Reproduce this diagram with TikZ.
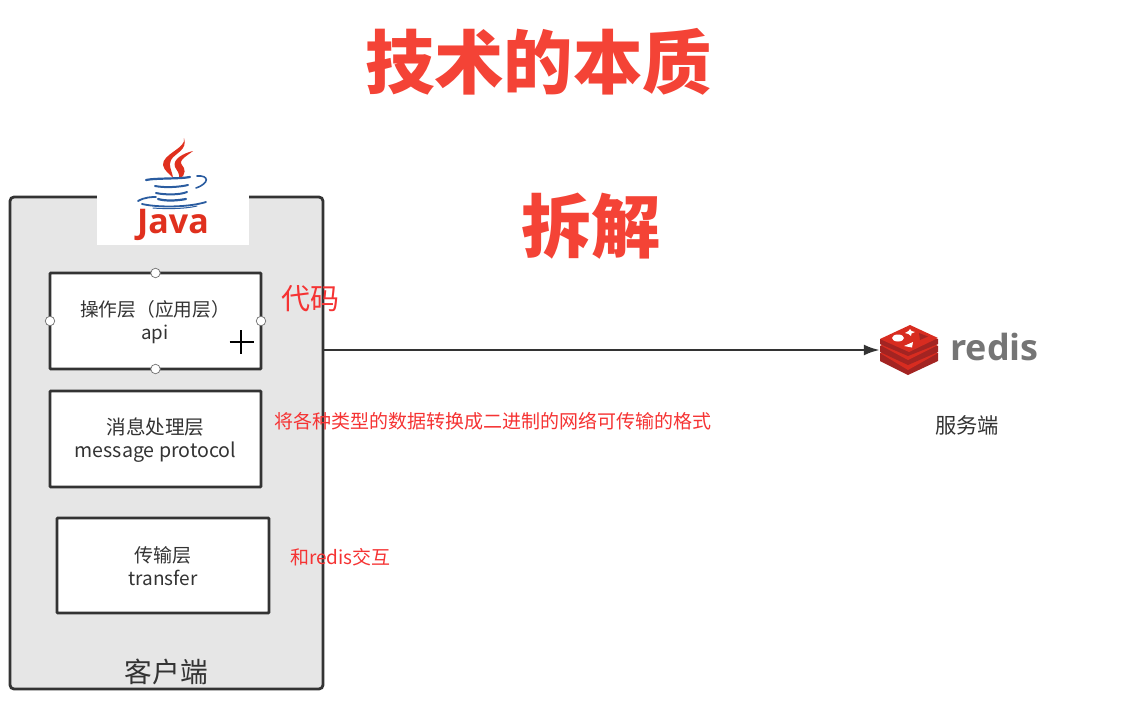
\documentclass[tikz,border=0pt]{standalone}
\usepackage{fontspec}
\setmainfont{Noto Sans CJK SC}
\newfontfamily\logofont{Open Sans}
\usetikzlibrary{arrows.meta}
\definecolor{ink}{HTML}{333333}
\definecolor{panelgray}{HTML}{E6E6E6}
\definecolor{titlered}{HTML}{F44336}
\definecolor{notered}{HTML}{F53333}
\definecolor{javared}{HTML}{E0301E}
\definecolor{javablue}{HTML}{2A5CA0}
\definecolor{redisred}{HTML}{D82C20}
\definecolor{redisdark}{HTML}{A32422}
\definecolor{redisgray}{HTML}{757575}
\newcommand{\fs}[1]{\fontsize{#1}{#1}\selectfont}
\tikzset{
  x=1pt,y=-1pt,
  txt/.style={inner sep=0pt,outer sep=0pt,align=center,text=ink},
  layerbox/.style={draw=ink,line width=2.8pt,fill=white,inner sep=0pt,outer sep=0pt,rounded corners=0.8pt},
  handle/.style={circle,draw=ink!70,line width=0.7pt,fill=white,inner sep=0pt,minimum size=9.5pt},
  note/.style={inner sep=0pt,outer sep=0pt,anchor=west,text=notered},
  titletext/.style={inner sep=0pt,outer sep=0pt,text=titlered,font=\fs{69.4}\bfseries},
  flow/.style={draw=ink,line width=2.5pt,-{Latex[length=16pt,width=11pt]}},
}
\begin{document}
\begin{tikzpicture}
\useasboundingbox (0,0) rectangle (1127,710);
% panel
\node[draw=ink,line width=2.8pt,fill=panelgray,rounded corners=4pt,minimum width=313pt,minimum height=492pt,inner sep=0pt,outer sep=0pt,anchor=north west] (panel) at (10,197) {};
\fill[white] (97,190) rectangle (249,245);
% titles
\node[titletext] (title) at (538.5,61.5) {技术的本质};
\node[titletext] (sub) at (591,226.5) {拆解};
% layers
\node[layerbox,minimum width=211pt,minimum height=96pt,anchor=north west] (api) at (50,273) {};
\node[layerbox,minimum width=211pt,minimum height=96pt,anchor=north west] (msg) at (50,391) {};
\node[layerbox,minimum width=212pt,minimum height=95pt,anchor=north west] (trans) at (57,518) {};
\node[txt,font=\fs{18.7}] (apitext) at (155,322.5) {操作层（应用层）\\[4.5pt]api};
\node[txt,font=\fs{19.6}] (msgtext) at (155.5,440) {消息处理层\\[4pt]message protocol};
\node[txt,font=\fs{19}] (transtext) at (163,566.5) {传输层\\[4pt]transfer};
\node[txt,font=\fs{27.7}] (client) at (166.5,672) {客户端};
% handles
\node[handle] (hn) at (api.north) {};
\node[handle] (hs) at (api.south) {};
\node[handle] (hw) at (api.west) {};
\node[handle] (he) at (api.east) {};
% cursor
\draw[black,line width=1.3pt] (229.5,342) -- (253.5,342) (241,330) -- (241,354);
% notes
\node[note,font=\fs{29}] (code) at (281,298.5) {代码};
\node[note,font=\fs{19}] (noteb) at (274,421) {将各种类型的数据转换成二进制的网络可传输的格式};
\node[note,font=\fs{19}] (notec) at (290,557) {和redis交互};
% java logo
\fill[javared] (184,138) .. controls (187,148) and (162,154) .. (163,165) .. controls (164,171) and (170,174) .. (173,178) .. controls (172,170) and (168,166) .. (171,160) .. controls (175,153) and (188,150) .. (184,138) -- cycle;
\fill[javared] (193,151) .. controls (184,153) and (172,159) .. (175,167) .. controls (177,171) and (180,173) .. (179,179) .. controls (187,175) and (185,168) .. (182,165) .. controls (178,160) and (187,156) .. (193,151) -- cycle;
\begin{scope}[javablue,line cap=round]
\draw[line width=2.2pt] (146,180) .. controls (155,178) and (180,179) .. (190,177);
\draw[line width=2pt] (155,186) .. controls (165,188) and (180,187) .. (188,185);
\draw[line width=2pt] (156,193) .. controls (165,195) and (180,195) .. (187,192);
\draw[line width=1.6pt] (197,176) .. controls (209,175) and (210,183) .. (196,188);
\draw[line width=1.8pt] (138,201) .. controls (145,197) and (152,197) .. (156,197);
\draw[line width=1.8pt] (142,204) .. controls (160,208) and (190,207) .. (206,202);
\draw[line width=1pt] (153,208) .. controls (165,209) and (185,209) .. (197,206);
\draw[line width=2.2pt] (158,199) .. controls (165,201) and (175,201) .. (186,199);
\end{scope}
\node[inner sep=0pt,text=javared,font=\logofont\bfseries\fs{34}] (java) at (173,225) {Java};
% redis logo
\node[inner sep=0pt,minimum width=58pt,minimum height=50pt] (redislogo) at (909,350) {};
\fill[redisdark] (880,353) -- (880,361) -- (908,375) -- (938,361) -- (938,353) -- cycle;
\fill[redisred] (880,353) -- (909,341) -- (938,353) -- (908,370) -- cycle;
\fill[redisdark] (880,346) -- (880,352) -- (908,365) -- (938,352) -- (938,346) -- cycle;
\fill[redisred] (880,345) -- (909,335) -- (938,345) -- (908,360) -- cycle;
\fill[redisdark] (880,339) -- (880,344) -- (908,356) -- (938,344) -- (938,339) -- cycle;
\fill[redisred] (880,339) -- (910,325) -- (938,338) -- (909,352) -- cycle;
\fill[white] (898,338) ellipse (6pt and 3.5pt);
\fill[white] (910,329) -- (911.5,331) -- (915,332) -- (911.5,333.5) -- (911,336) -- (908.5,334) -- (905,333) -- (908.5,331) -- cycle;
\fill[white] (904,346) -- (913,342) -- (912,347.5) -- cycle;
\fill[redisdark] (919,333) -- (928,336.5) -- (920,340) -- cycle;
\node[inner sep=0pt,anchor=west,text=redisgray,font=\logofont\bfseries\fs{36}] (redisword) at (950,346.5) {redis};
\node[txt,font=\fs{21.3}] (server) at (967,425) {服务端};
% connector
\draw[flow] (panel.east |- redislogo.west) -- (redislogo.west);
\end{tikzpicture}
\end{document}
